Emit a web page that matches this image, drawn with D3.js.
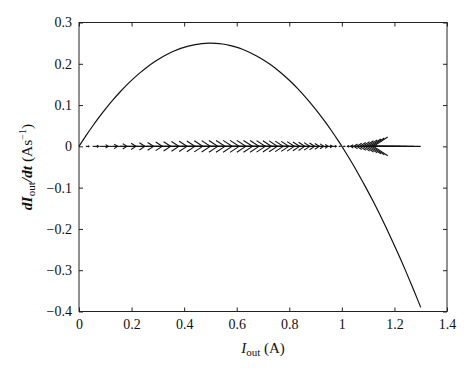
<!DOCTYPE html>
<html>
<head>
<meta charset="utf-8">
<script src="https://cdn.jsdelivr.net/npm/d3@7"></script>
<style>
  body { margin: 0; background: #fff; }
  svg { display: block; font-family: "Liberation Serif", "DejaVu Serif", serif; }
</style>
</head>
<body>
<script>
// sample points along I_out (A) where the field arrows sit, and the curve through them
let iOut = [0, 0.026, 0.052, 0.078, 0.104, 0.13, 0.156, 0.182, 0.208, 0.234,
            0.26, 0.286, 0.312, 0.338, 0.364, 0.39, 0.416, 0.442, 0.468, 0.494,
            0.52, 0.546, 0.572, 0.598, 0.624, 0.65, 0.676, 0.702, 0.728, 0.754,
            0.78, 0.806, 0.832, 0.858, 0.884, 0.91, 0.936, 0.962, 0.988, 1.014,
            1.04, 1.066, 1.092, 1.118, 1.144, 1.17, 1.196, 1.222, 1.248, 1.274, 1.3];
let dIdt = [0, 0.0253, 0.0493, 0.0719, 0.0932, 0.1131, 0.1317, 0.1489, 0.1647, 0.1792,
            0.1924, 0.2042, 0.2147, 0.2238, 0.2315, 0.2379, 0.2429, 0.2466, 0.2490, 0.2500,
            0.2496, 0.2479, 0.2448, 0.2404, 0.2346, 0.2275, 0.2190, 0.2092, 0.1980, 0.1855,
            0.1716, 0.1564, 0.1398, 0.1218, 0.1025, 0.0819, 0.0599, 0.0366, 0.0119, -0.0142,
            -0.0416, -0.0704, -0.1005, -0.1319, -0.1647, -0.1989, -0.2344, -0.2713, -0.3095, -0.3491, -0.39];
let xTicks = [0, 0.2, 0.4, 0.6, 0.8, 1, 1.2, 1.4];
let yTicks = [0.3, 0.2, 0.1, 0, -0.1, -0.2, -0.3, -0.4];

init();

function init() {
  let width = 474, height = 374,
      margin = {l: 79, r: 27, t: 22.5, b: 62.5};

  let svg = d3.select("body").append("svg")
              .attr("width", width)
              .attr("height", height);

  let x = d3.scaleLinear().domain([0, 1.4]).range([margin.l, width - margin.r]);
  let y = d3.scaleLinear().domain([-0.4, 0.3]).range([height - margin.b, margin.t]);

  let fmt = (d) => d3.format("")(+d.toFixed(1)).replace("-", "\u2212");

  // axes, ticks pointing inward
  let gx = svg.append("g")
              .attr("transform", `translate(0,${y(-0.4)})`)
              .call(d3.axisBottom(x).tickValues(xTicks).tickFormat(fmt).tickSizeInner(-4).tickSizeOuter(0).tickPadding(8));
  let gy = svg.append("g")
              .attr("transform", `translate(${x(0)},0)`)
              .call(d3.axisLeft(y).tickValues(yTicks).tickFormat(fmt).tickSizeInner(-4).tickSizeOuter(0).tickPadding(7));
  let gt = svg.append("g")
              .attr("transform", `translate(0,${y(0.3)})`)
              .call(d3.axisTop(x).tickValues(xTicks).tickFormat("").tickSizeInner(-4).tickSizeOuter(0));
  let gr = svg.append("g")
              .attr("transform", `translate(${x(1.4)},0)`)
              .call(d3.axisRight(y).tickValues(yTicks).tickFormat("").tickSizeInner(-4).tickSizeOuter(0));

  [gx, gy, gt, gr].forEach((g) => {
    g.select(".domain").remove();
    g.selectAll("text").attr("font-size", 14).attr("font-family", "Liberation Serif").attr("fill", "#111");
    g.selectAll("line").attr("stroke", "#222");
  });

  svg.append("rect")
     .attr("x", x(0)).attr("y", y(0.3))
     .attr("width", x(1.4) - x(0)).attr("height", y(-0.4) - y(0.3))
     .attr("fill", "none").attr("stroke", "#222").attr("stroke-width", 1);

  // curve
  let line = d3.line()
               .x((d, i) => x(iOut[i]))
               .y((d) => y(d))
               .curve(d3.curveCatmullRom);

  svg.append("path")
     .datum(dIdt)
     .attr("d", line)
     .attr("fill", "none")
     .attr("stroke", "#111")
     .attr("stroke-width", 1.2);

  // quiver-style arrows on the I_out axis
  let scale = 0.46, alpha = 0.3, beta = 0.42;
  let arrows = svg.append("g").attr("id", "arrows")
                  .attr("fill", "none").attr("stroke", "#111").attr("stroke-width", 1.1);

  iOut.forEach((xi, i) => {
    let u = scale * dIdt[i];
    if (u === 0) return;
    let tip = xi + u;
    arrows.append("line")
          .attr("x1", x(xi)).attr("y1", y(0))
          .attr("x2", x(tip)).attr("y2", y(0));
    let back = tip - alpha * u, half = alpha * beta * u;
    arrows.append("path")
          .attr("d", `M${x(back)},${y(half)}L${x(tip)},${y(0)}L${x(back)},${y(-half)}`);
  });

  // axis titles
  let xl = svg.append("text")
              .attr("x", (x(0) + x(1.4)) / 2)
              .attr("y", 353)
              .attr("text-anchor", "middle")
              .attr("font-size", 15)
              .attr("fill", "#111");
  xl.append("tspan").attr("font-style", "italic").text("I");
  xl.append("tspan").attr("font-size", 11).attr("dy", 3).text("out");
  xl.append("tspan").attr("dy", -3).text(" (A)");

  let yl = svg.append("text")
              .attr("transform", `translate(32,${y(-0.05)}) rotate(-90)`)
              .attr("text-anchor", "middle")
              .attr("font-size", 15.5)
              .attr("fill", "#111");
  yl.append("tspan").attr("font-style", "italic").attr("font-weight", "bold").text("dI");
  yl.append("tspan").attr("font-size", 11).attr("dy", 3).text("out");
  yl.append("tspan").attr("dy", -3).attr("font-style", "italic").attr("font-weight", "bold").text("/dt");
  yl.append("tspan").text(" (As");
  yl.append("tspan").attr("font-size", 10).attr("dy", -6).text("\u22121");
  yl.append("tspan").attr("dy", 6).text(")");
}
</script>
</body>
</html>
